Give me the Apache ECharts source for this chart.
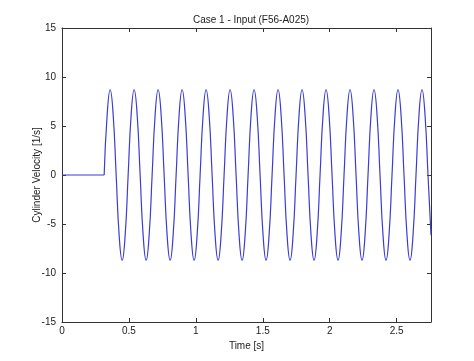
<!DOCTYPE html>
<html>
<head>
<meta charset="utf-8">
<script src="https://cdn.jsdelivr.net/npm/echarts@6/dist/echarts.min.js"></script>
<style>html,body{margin:0;padding:0;background:#fff}#c{width:474px;height:361px}</style>
</head>
<body>
<div id="c"></div>
<script>
// Flat part before the input starts
var flatTime = [0, 0.315];
var flatValue = [0, 0];
// Oscillating part (peaks ~8.7, troughs ~-8.7, period ~0.179 s)
var time = [0.3150,0.3374,0.3598,0.3822,0.4046,0.4270,0.4494,0.4718,0.4942,0.5166,0.5390,0.5614,0.5838,0.6062,0.6286,0.6510,0.6734,0.6958,0.7182,0.7406,0.7630,0.7854,0.8078,0.8302,0.8526,0.8750,0.8974,0.9198,0.9422,0.9646,0.9870,1.0094,1.0318,1.0542,1.0766,1.0990,1.1214,1.1438,1.1662,1.1886,1.2110,1.2334,1.2558,1.2782,1.3006,1.3230,1.3454,1.3678,1.3902,1.4126,1.4350,1.4574,1.4798,1.5022,1.5246,1.5470,1.5694,1.5918,1.6142,1.6366,1.6590,1.6814,1.7038,1.7262,1.7486,1.7710,1.7934,1.8158,1.8382,1.8606,1.8830,1.9054,1.9278,1.9502,1.9726,1.9950,2.0174,2.0398,2.0622,2.0846,2.1070,2.1294,2.1518,2.1742,2.1966,2.2190,2.2414,2.2638,2.2862,2.3086,2.3310,2.3534,2.3758,2.3982,2.4206,2.4430,2.4654,2.4878,2.5102,2.5326,2.5550,2.5774,2.5998,2.6222,2.6446,2.6670,2.6894,2.7118,2.7342,2.7566];
var velocity = [0,6.15,8.7,6.15,0,-6.15,-8.7,-6.15,
0,6.15,8.7,6.15,0,-6.15,-8.7,-6.15,
0,6.15,8.7,6.15,0,-6.15,-8.7,-6.15,
0,6.15,8.7,6.15,0,-6.15,-8.7,-6.15,
0,6.15,8.7,6.15,0,-6.15,-8.7,-6.15,
0,6.15,8.7,6.15,0,-6.15,-8.7,-6.15,
0,6.15,8.7,6.15,0,-6.15,-8.7,-6.15,
0,6.15,8.7,6.15,0,-6.15,-8.7,-6.15,
0,6.15,8.7,6.15,0,-6.15,-8.7,-6.15,
0,6.15,8.7,6.15,0,-6.15,-8.7,-6.15,
0,6.15,8.7,6.15,0,-6.15,-8.7,-6.15,
0,6.15,8.7,6.15,0,-6.15,-8.7,-6.15,
0,6.15,8.7,6.15,0,-6.15,-8.7,-6.15,
0,6.15,8.7,6.15,0,-6.15];
var xTicks = [0, 0.5, 1, 1.5, 2, 2.5];
var yTicks = [-15, -10, -5, 0, 5, 10, 15];
var titleText = 'Case 1 - Input (F56-A025)';
var xName = 'Time [s]';
var yName = 'Cylinder Velocity [1/s]';

var chart = echarts.init(document.getElementById('c'), null, {renderer: 'canvas'});
var font = 'Liberation Sans, Arial, sans-serif';
var axisCol = '#333333';
function lbl(v){ return xTicks.indexOf(v) >= 0 ? String(v) : ''; }
function ylbl(v){ return yTicks.indexOf(v) >= 0 ? String(v) : ''; }
var common = {
  type: 'value',
  axisLine: {show: true, onZero: false, lineStyle: {color: axisCol, width: 1}},
  axisTick: {show: true, inside: true, length: 4, lineStyle: {color: axisCol}},
  splitLine: {show: false}
};
chart.setOption({
  animation: false,
  backgroundColor: '#ffffff',
  title: {text: titleText, left: 246, top: 10, textAlign: 'center',
    textStyle: {fontFamily: font, fontSize: 10, fontWeight: 'normal', color: '#222'}},
  grid: {left: 62, right: 43, top: 28, bottom: 39, containLabel: false},
  xAxis: [
    Object.assign({}, common, {position: 'bottom', min: 0, max: 2.7566, interval: 0.5,
      name: xName, nameLocation: 'middle', nameGap: 19, nameMoveOverlap: false,
      nameTextStyle: {fontFamily: font, fontSize: 10, color: '#222'},
      axisLabel: {show: true, formatter: lbl, fontFamily: font, fontSize: 10, color: '#222', margin: 4, showMaxLabel: false}}),
    Object.assign({}, common, {position: 'top', min: 0, max: 2.7566, interval: 0.5,
      axisLabel: {show: false}})
  ],
  yAxis: [
    Object.assign({}, common, {position: 'left', min: -15, max: 15, interval: 5,
      name: yName, nameLocation: 'middle', nameGap: 20, nameMoveOverlap: false,
      nameTextStyle: {fontFamily: font, fontSize: 10, color: '#222'},
      axisLabel: {show: true, formatter: ylbl, fontFamily: font, fontSize: 10, color: '#222', margin: 6}}),
    Object.assign({}, common, {position: 'right', min: -15, max: 15, interval: 5,
      axisLabel: {show: false}})
  ],
  series: [
    {type: 'line', xAxisIndex: 0, yAxisIndex: 0, showSymbol: false, smooth: false,
      data: flatTime.map(function(t, i){ return [t, flatValue[i]]; }),
      lineStyle: {color: '#3b3bd6', width: 1.2}},
    {type: 'line', xAxisIndex: 0, yAxisIndex: 0, showSymbol: false, smooth: 0.5,
      data: time.map(function(t, i){ return [t, velocity[i]]; }),
      lineStyle: {color: '#3b3bd6', width: 1.2}}
  ]
});
</script>
</body>
</html>
